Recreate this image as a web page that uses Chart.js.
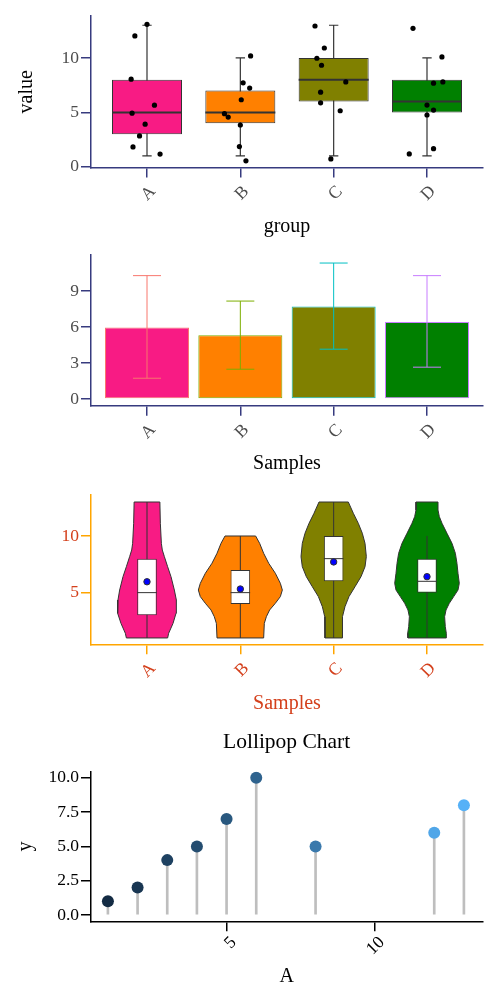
<!DOCTYPE html>
<html>
<head>
<meta charset="utf-8">
<script src="https://cdn.jsdelivr.net/npm/chart.js@4.4.1/dist/chart.umd.min.js"></script>
<style>
  html, body { margin: 0; padding: 0; background: #fff; }
  canvas { position: absolute; left: 0; }
</style>
</head>
<body>
<canvas id="boxChart" width="500" height="240" style="top:0px"></canvas>
<canvas id="barChart" width="500" height="240" style="top:240px"></canvas>
<canvas id="violinChart" width="500" height="240" style="top:480px"></canvas>
<canvas id="lolliChart" width="500" height="283" style="top:720px"></canvas>
<script>
// ---- datos ----
const groups = ['A', 'B', 'C', 'D'];
const fillColors = ['#F81B84', '#FF8000', '#808000', '#008000'];
const outlineColors = ['#F8766D', '#7CAE00', '#00BFC4', '#C77CFF'];

// estadísticos del boxplot
const whiskerLow = [1, 1, 1, 1];
const q1 = [3, 4, 6, 5];
const median = [5, 5, 8, 6];
const q3 = [8, 7, 10, 8];
const whiskerHigh = [13, 10, 13, 10];

// puntos con jitter (posición x, valor)
const jitterX = [
  [1.00, 0.87, 0.83, 0.84, 1.08, 0.98, 0.92, 0.85, 1.14],
  [2.11, 2.03, 2.10, 2.01, 1.83, 1.87, 2.00, 1.99, 2.06],
  [2.80, 2.90, 2.82, 2.87, 3.13, 2.86, 2.86, 3.07, 2.97],
  [3.85, 4.16, 4.07, 4.17, 4.00, 4.07, 4.00, 4.07, 3.81]
];
const jitterY = [
  [13.09, 12.02, 8.05, 4.93, 5.66, 3.92, 2.84, 1.83, 1.17],
  [10.18, 7.71, 7.23, 6.16, 4.88, 4.57, 3.84, 1.86, 0.55],
  [12.93, 10.91, 9.97, 9.33, 7.80, 6.86, 5.88, 5.15, 0.73],
  [12.72, 10.09, 7.68, 7.80, 5.67, 5.21, 4.76, 1.67, 1.19]
];

// medias y barras de error
const means = [5.96, 5.32, 7.71, 6.41];
const errLow = [1.73, 2.48, 4.15, 2.65];
const errHigh = [10.28, 8.16, 11.33, 10.28];

// perfiles del violín: niveles y semi-anchos
const violinLevels = [
  [1.0, 1.41, 2.29, 3.18, 3.76, 4.35, 5.23, 6.41, 7.29, 8.18, 8.76, 9.35, 11.12, 13.0],
  [1.0, 2.29, 2.88, 3.47, 4.06, 4.65, 5.23, 5.82, 6.71, 7.59, 8.47, 9.35, 10.0],
  [1.0, 2.0, 2.88, 3.76, 4.65, 5.53, 6.41, 7.29, 8.18, 9.35, 10.24, 11.12, 12.0, 13.0],
  [1.0, 1.41, 2.0, 2.88, 3.47, 4.06, 4.65, 5.23, 5.82, 6.71, 7.59, 8.47, 9.35, 10.24, 11.12, 11.71, 12.29, 13.0]
];
const violinHalfWidths = [
  [0.221, 0.232, 0.279, 0.311, 0.318, 0.311, 0.293, 0.257, 0.221, 0.186, 0.164, 0.154, 0.143, 0.138],
  [0.250, 0.257, 0.279, 0.314, 0.375, 0.429, 0.450, 0.429, 0.375, 0.304, 0.250, 0.207, 0.164],
  [0.093, 0.093, 0.096, 0.121, 0.164, 0.229, 0.293, 0.336, 0.350, 0.336, 0.307, 0.264, 0.211, 0.157],
  [0.204, 0.207, 0.196, 0.189, 0.204, 0.239, 0.286, 0.332, 0.346, 0.332, 0.321, 0.304, 0.268, 0.214, 0.161, 0.132, 0.118, 0.118]
];

// lollipop
const lolliX = [1, 2, 3, 4, 5, 6, 8, 12, 13];
const lolliY = [1, 2, 4, 5, 7, 10, 5, 6, 8];

const boxTicks = [0, 5, 10];
const barTicks = [0, 3, 6, 9];
const violinTicks = [5, 10];
const lolliYTicks = [0, 2.5, 5, 7.5, 10];
const lolliXTicks = [5, 10];

// ---- estilos ----
const serif = "'Liberation Serif', 'Times New Roman', serif";
const navy = '#373B7F';
const tickFont = { family: serif, size: 17.5 };
const titleFont = { family: serif, size: 20 };

function fixTicks(values) {
  return scale => { scale.ticks = values.map(v => ({ value: v })); };
}

function ejeX(opts) {
  return {
    type: 'linear', min: opts.min, max: opts.max, offset: false,
    afterBuildTicks: fixTicks(opts.ticks),
    afterFit: scale => { scale.height = opts.height; },
    ticks: {
      callback: opts.label, autoSkip: false, minRotation: 45, maxRotation: 45,
      padding: opts.padding, labelOffset: opts.shift, color: opts.textColor, font: tickFont
    },
    grid: { offset: false, drawOnChartArea: false, drawTicks: true, tickLength: 10, color: opts.lineColor, lineWidth: 1.5 },
    border: { display: true, color: opts.lineColor, width: 1.5 },
    title: {
      display: !!opts.title, text: opts.title, color: opts.titleColor || '#000',
      font: titleFont, padding: { top: 0, bottom: opts.titlePad }
    }
  };
}

function ejeY(opts) {
  return {
    min: opts.min, max: opts.max,
    afterBuildTicks: fixTicks(opts.ticks),
    afterFit: scale => { scale.width = 91; },
    ticks: { callback: opts.label, padding: 2, color: opts.textColor, font: tickFont },
    grid: { drawOnChartArea: false, drawTicks: true, tickLength: 10, color: opts.lineColor, lineWidth: 1.5 },
    border: { display: true, color: opts.lineColor, width: 1.5 },
    title: {
      display: !!opts.title, text: opts.title, color: '#000',
      font: titleFont, padding: { top: opts.titlePad || 0, bottom: 0 }
    }
  };
}

const basePlugins = { legend: { display: false }, tooltip: { enabled: false } };
const groupLabel = v => groups[Math.round(v) - 1];

// segmentos con huecos (null) entre ellos
function segmentos(list) {
  const out = [];
  list.forEach(seg => { out.push(seg[0], seg[1], { x: seg[1].x, y: null }); });
  return out;
}

function lineaDataset(data, color, width, order) {
  return {
    type: 'line', data: data, borderColor: color, borderWidth: width,
    pointRadius: 0, fill: false, tension: 0, order: order
  };
}

// ---- 1: boxplot con puntos ----
const boxBodies = {
  type: 'bar',
  data: groups.map((g, i) => ({ x: i + 1, y: [q1[i], q3[i]] })),
  backgroundColor: fillColors, borderColor: '#333333', borderWidth: 1, borderSkipped: false,
  barPercentage: 0.75, categoryPercentage: 1, grouped: false, order: 3
};
const whiskerSegs = [];
groups.forEach((g, i) => {
  const x = i + 1;
  whiskerSegs.push([{ x: x, y: whiskerLow[i] }, { x: x, y: whiskerHigh[i] }]);
  whiskerSegs.push([{ x: x - 0.05, y: whiskerLow[i] }, { x: x + 0.05, y: whiskerLow[i] }]);
  whiskerSegs.push([{ x: x - 0.05, y: whiskerHigh[i] }, { x: x + 0.05, y: whiskerHigh[i] }]);
});
const medianSegs = groups.map((g, i) => [{ x: i + 1 - 0.375, y: median[i] }, { x: i + 1 + 0.375, y: median[i] }]);
const jitterPoints = [];
jitterX.forEach((xs, i) => xs.forEach((x, j) => jitterPoints.push({ x: x, y: jitterY[i][j] })));

new Chart(document.getElementById('boxChart'), {
  type: 'bar',
  data: {
    datasets: [
      boxBodies,
      lineaDataset(segmentos(whiskerSegs), '#333333', 1.2, 4),
      lineaDataset(segmentos(medianSegs), '#333333', 2, 2),
      { type: 'scatter', data: jitterPoints, pointRadius: 2.6, backgroundColor: '#000', borderWidth: 0, order: 1 }
    ]
  },
  options: {
    responsive: false, animation: false,
    layout: { padding: { top: 16, right: 17, left: 0, bottom: 0 } },
    plugins: basePlugins,
    scales: {
      x: ejeX({ min: 0.4, max: 4.6, ticks: [1, 2, 3, 4], label: groupLabel, height: 72.5, padding: 4, shift: 6,
                textColor: '#4D4D4D', lineColor: navy, title: 'group', titlePad: 1 }),
      y: ejeY({ min: -0.06, max: 13.85, ticks: boxTicks, textColor: '#4D4D4D', lineColor: navy,
                title: 'value', titlePad: 14.5 })
    }
  }
});

// ---- 2: barras con error ----
const errorSets = groups.map((g, i) => {
  const x = i + 1;
  const segs = [
    [{ x: x, y: errLow[i] }, { x: x, y: errHigh[i] }],
    [{ x: x - 0.15, y: errHigh[i] }, { x: x + 0.15, y: errHigh[i] }],
    [{ x: x - 0.15, y: errLow[i] }, { x: x + 0.15, y: errLow[i] }]
  ];
  return lineaDataset(segmentos(segs), outlineColors[i], 1, 1);
});

new Chart(document.getElementById('barChart'), {
  type: 'bar',
  data: {
    datasets: [{
      type: 'bar', data: groups.map((g, i) => ({ x: i + 1, y: means[i] })),
      backgroundColor: fillColors, borderColor: outlineColors, borderWidth: 1, borderSkipped: false,
      barPercentage: 0.9, categoryPercentage: 1, order: 2
    }].concat(errorSets)
  },
  options: {
    responsive: false, animation: false,
    layout: { padding: { top: 15, right: 17, left: 0, bottom: 0 } },
    plugins: basePlugins,
    scales: {
      x: ejeX({ min: 0.4, max: 4.6, ticks: [1, 2, 3, 4], label: groupLabel, height: 74.3, padding: 4, shift: 6,
                textColor: '#4D4D4D', lineColor: navy, title: 'Samples', titlePad: 4.75 }),
      y: ejeY({ min: -0.56, max: 12.0, ticks: barTicks, textColor: '#4D4D4D', lineColor: navy })
    }
  }
});

// ---- 3: violín ----
const orange = '#FFA500';
const orangeText = '#D4401C';
const violinSets = groups.map((g, i) => {
  const x = i + 1;
  const lv = violinLevels[i], hw = violinHalfWidths[i];
  const right = lv.map((y, k) => ({ x: x + hw[k], y: y }));
  const left = lv.map((y, k) => ({ x: x - hw[k], y: y })).reverse();
  const pts = right.concat(left, [right[0]]);
  return {
    type: 'line', data: pts, borderColor: '#333333', borderWidth: 1, backgroundColor: fillColors[i],
    fill: 'shape', pointRadius: 0, tension: 0, order: 5
  };
});
const violinWhiskers = groups.map((g, i) => [{ x: i + 1, y: whiskerLow[i] }, { x: i + 1, y: whiskerHigh[i] }]);
const violinMedians = groups.map((g, i) => [{ x: i + 1 - 0.105, y: median[i] }, { x: i + 1 + 0.105, y: median[i] }]);

new Chart(document.getElementById('violinChart'), {
  type: 'bar',
  data: {
    datasets: violinSets.concat([
      lineaDataset(segmentos(violinWhiskers), '#333333', 1, 4),
      {
        type: 'bar', data: groups.map((g, i) => ({ x: i + 1, y: [q1[i], q3[i]] })),
        backgroundColor: '#FFFFFF', borderColor: '#333333', borderWidth: 1, borderSkipped: false,
        barPercentage: 0.21, categoryPercentage: 1, grouped: false, order: 3
      },
      lineaDataset(segmentos(violinMedians), '#333333', 1, 2),
      {
        type: 'scatter', data: groups.map((g, i) => ({ x: i + 1, y: means[i] })),
        pointRadius: 3.2, backgroundColor: '#0000FF', borderColor: '#333333', borderWidth: 1, order: 1
      }
    ])
  },
  options: {
    responsive: false, animation: false,
    layout: { padding: { top: 14.3, right: 17, left: 0, bottom: 0 } },
    plugins: basePlugins,
    scales: {
      x: ejeX({ min: 0.4, max: 4.6, ticks: [1, 2, 3, 4], label: groupLabel, height: 75.7, padding: 4, shift: 6,
                textColor: orangeText, lineColor: orange, title: 'Samples', titleColor: orangeText, titlePad: 4.75 }),
      y: ejeY({ min: 0.44, max: 13.68, ticks: violinTicks, textColor: orangeText, lineColor: orange })
    }
  }
});

// ---- 4: lollipop ----
const lowColor = [0x13, 0x2B, 0x43];
const highColor = [0x56, 0xB1, 0xF7];
function gradiente(v) {
  const t = (v - Math.min(...lolliX)) / (Math.max(...lolliX) - Math.min(...lolliX));
  const c = lowColor.map((a, k) => Math.round(a + (highColor[k] - a) * t));
  return 'rgb(' + c.join(',') + ')';
}

new Chart(document.getElementById('lolliChart'), {
  type: 'bar',
  data: {
    datasets: [
      {
        type: 'bar', data: lolliX.map((x, i) => ({ x: x, y: lolliY[i] })),
        backgroundColor: '#BEBEBE', barThickness: 2, borderWidth: 0, order: 2
      },
      {
        type: 'scatter', data: lolliX.map((x, i) => ({ x: x, y: lolliY[i] })),
        pointRadius: 6, backgroundColor: lolliX.map(gradiente), borderWidth: 0, order: 1
      }
    ]
  },
  options: {
    responsive: false, animation: false,
    layout: { padding: { top: 0, right: 17.7, left: 0, bottom: 0 } },
    plugins: Object.assign({}, basePlugins, {
      title: {
        display: true, text: 'Lollipop Chart', color: '#000', fullSize: false,
        font: { family: serif, size: 21.5, weight: 'normal' }, padding: { top: 9, bottom: 16.7 }
      }
    }),
    scales: {
      x: ejeX({ min: 0.43, max: 13.62, ticks: lolliXTicks, label: v => v, height: 81.7, padding: 1, shift: 7,
                textColor: '#000', lineColor: '#000', title: 'A', titlePad: 14.4 }),
      y: ejeY({ min: -0.46, max: 10.46, ticks: lolliYTicks, label: v => v.toFixed(1), textColor: '#000',
                lineColor: '#000', title: 'y', titlePad: 13.6 })
    }
  }
});
</script>
</body>
</html>
